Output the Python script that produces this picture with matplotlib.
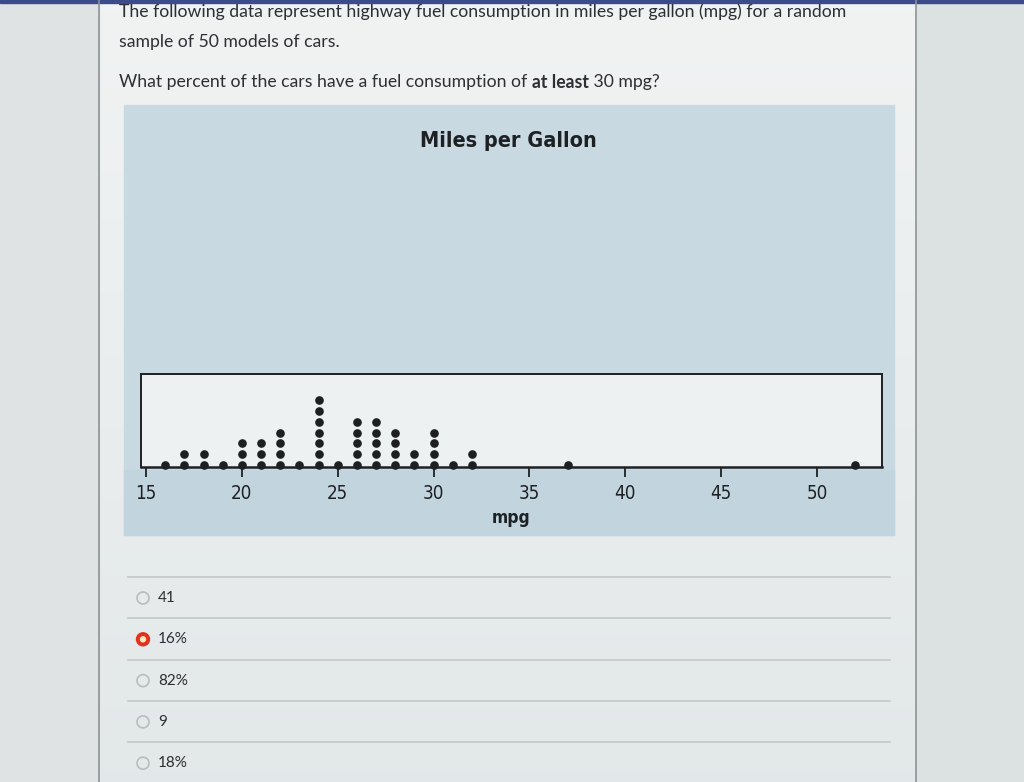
"""Dot plot of highway fuel consumption (mpg) for 50 car models, drawn as a quiz screen."""
import matplotlib

matplotlib.use("Agg")
import matplotlib.pyplot as plt
import numpy as np
from matplotlib.patches import Circle, Rectangle

# --- data ---
MPG_VALUES = [16, 17, 18, 19, 20, 21, 22, 23, 24, 25, 26, 27, 28, 29, 30, 31, 32, 37, 52]
MPG_COUNTS = [1, 2, 2, 1, 3, 3, 4, 1, 7, 1, 5, 5, 4, 2, 4, 1, 2, 1, 1]
X_TICKS = [15, 20, 25, 30, 35, 40, 45, 50]
CHOICES = ["41", "16%", "82%", "9", "18%"]
SELECTED = 1

QUESTION_1 = "The following data represent highway fuel consumption in miles per gallon (mpg) for a random"
QUESTION_2 = "sample of 50 models of cars."

W, H = 1024, 782
Q_SIZE = 12.7
TEXT = "#2c2f33"
DARK = "#1e2124"
COND = dict(family="DejaVu Sans", fontstretch="condensed")


def _px(x0, y0, x1, y1):
    """pixel box (top-left origin) -> figure fraction rect"""
    return [x0 / W, 1 - y1 / H, (x1 - x0) / W, (y1 - y0) / H]


fig = plt.figure(figsize=(W / 100, H / 100), dpi=100)
bg = fig.add_axes([0, 0, 1, 1])
bg.set_xlim(0, W)
bg.set_ylim(H, 0)
bg.axis("off")

# screen background (photo tones)
grad = np.linspace(0, 1, 64)[:, None]
page = np.array([0.945, 0.953, 0.953]) * (1 - grad[..., None]) + np.array([0.89, 0.91, 0.915]) * grad[..., None]
bg.imshow(np.repeat(page, 2, axis=1), extent=(0, W, H, 0), aspect="auto", zorder=0)
bg.add_patch(Rectangle((0, 0), 99, H, color="#e0e3e4", zorder=1))
bg.add_patch(Rectangle((917, 0), W - 917, H, color="#dce1e1", zorder=1))
bg.add_patch(Rectangle((0, 0), W, 3, color="#3b4b8c", zorder=2))
bg.plot([99, 99], [0, H], color="#8c9394", lw=1.2, zorder=2)
bg.plot([916, 916], [0, H], color="#8c9394", lw=1.2, zorder=2)

# question text
bg.text(119, 12, QUESTION_1, family="Lato", fontsize=Q_SIZE, color=TEXT, va="center", zorder=3)
bg.text(119, 42, QUESTION_2, family="Lato", fontsize=Q_SIZE, color=TEXT, va="center", zorder=3)
t = bg.text(119, 82, "What percent of the cars have a fuel consumption of ", family="Lato",
            fontsize=Q_SIZE, color=TEXT, va="center", zorder=3)
fig.canvas.draw()
renderer = fig.canvas.get_renderer()
bb = t.get_window_extent(renderer=renderer)
t2 = bg.text(bb.x1, H - 82, "at least", family="Lato", fontsize=Q_SIZE, fontweight="bold", color=TEXT,
             va="center", transform=None, zorder=3)
bb2 = t2.get_window_extent(renderer=renderer)
bg.text(bb2.x1, H - 82, " 30 mpg?", family="Lato", fontsize=Q_SIZE, color=TEXT, va="center",
        transform=None, zorder=3)

# blue chart panel
bg.add_patch(Rectangle((124, 105), 770, 430, color="#c9d9e2", zorder=2))
bg.add_patch(Rectangle((124, 470), 770, 65, color="#c2d5de", zorder=2))
bg.text(508, 141, "Miles per Gallon", fontsize=15.5, fontweight="bold", color=DARK,
        ha="center", va="center", zorder=3, **COND)
bg.text(511, 518, "mpg", fontsize=12.5, fontweight="bold", color=DARK,
        ha="center", va="center", zorder=3, **COND)

# answer choices
for i, label in enumerate(CHOICES):
    y_line = 577 + i * 41.3
    bg.plot([128, 890], [y_line, y_line], color="#c3c9cb", lw=1.2, zorder=3)
    y_txt = y_line + 21
    if i == SELECTED:
        bg.add_patch(Circle((143, y_txt), 6.5, color="#e0321e", zorder=4))
        bg.add_patch(Circle((143, y_txt), 2.5, color="#fbe7c0", zorder=5))
    else:
        bg.add_patch(Circle((143, y_txt), 6, facecolor="none", edgecolor="#b8bec0", lw=1.2, zorder=4))
    bg.text(158, y_txt, label, family="Lato", fontsize=11, color=TEXT, va="center", zorder=4)

# dot plot
ax = fig.add_axes(_px(141, 374, 882, 467))
ax.set_facecolor("#eef1f1")
xs, ys = [], []
for v, c in zip(MPG_VALUES, MPG_COUNTS):
    xs.extend([v] * c)
    ys.extend(range(c))
ax.plot(xs, ys, "o", color="#1d1f21", markersize=5.2, linestyle="none", clip_on=False)
ax.set_xlim(14.74, 53.39)
ax.set_ylim(-0.185, 8.43)
ax.set_yticks([])
ax.set_xticks(X_TICKS)
ax.set_xticklabels([str(v) for v in X_TICKS], fontsize=13.5, color=DARK, **COND)
ax.tick_params(axis="x", direction="out", length=7.5, width=1.3, pad=5, colors=DARK)
for s in ax.spines.values():
    s.set_color(DARK)
    s.set_linewidth(1.4)
ax.spines["bottom"].set_linewidth(1.8)

fig.savefig("out.png", dpi=100)
